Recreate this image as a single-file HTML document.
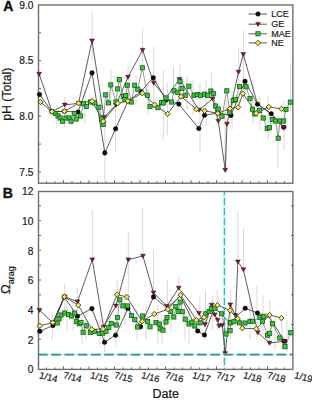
<!DOCTYPE html>
<html><head><meta charset="utf-8"><style>
html,body{margin:0;padding:0;background:#fff;width:312px;height:400px;overflow:hidden}
svg{display:block}
text{stroke:#222;stroke-width:0.2px}
</style></head><body>
<svg width="312" height="400" viewBox="0 0 312 400">
<rect width="312" height="400" fill="#fff"/>
<rect x="38.5" y="5.0" width="254.35" height="178.20" fill="none" stroke="#6e6e6e" stroke-width="1.4"/>
<line x1="46.5" y1="183.2" x2="46.5" y2="181.2" stroke="#6a6a6a" stroke-width="1"/>
<line x1="55.0" y1="183.2" x2="55.0" y2="181.2" stroke="#6a6a6a" stroke-width="1"/>
<line x1="63.5" y1="183.2" x2="63.5" y2="180.2" stroke="#6a6a6a" stroke-width="1"/>
<line x1="72.0" y1="183.2" x2="72.0" y2="181.2" stroke="#6a6a6a" stroke-width="1"/>
<line x1="80.5" y1="183.2" x2="80.5" y2="181.2" stroke="#6a6a6a" stroke-width="1"/>
<line x1="89.0" y1="183.2" x2="89.0" y2="180.2" stroke="#6a6a6a" stroke-width="1"/>
<line x1="97.5" y1="183.2" x2="97.5" y2="181.2" stroke="#6a6a6a" stroke-width="1"/>
<line x1="106.0" y1="183.2" x2="106.0" y2="181.2" stroke="#6a6a6a" stroke-width="1"/>
<line x1="114.5" y1="183.2" x2="114.5" y2="180.2" stroke="#6a6a6a" stroke-width="1"/>
<line x1="123.0" y1="183.2" x2="123.0" y2="181.2" stroke="#6a6a6a" stroke-width="1"/>
<line x1="131.5" y1="183.2" x2="131.5" y2="181.2" stroke="#6a6a6a" stroke-width="1"/>
<line x1="140.0" y1="183.2" x2="140.0" y2="180.2" stroke="#6a6a6a" stroke-width="1"/>
<line x1="148.5" y1="183.2" x2="148.5" y2="181.2" stroke="#6a6a6a" stroke-width="1"/>
<line x1="157.0" y1="183.2" x2="157.0" y2="181.2" stroke="#6a6a6a" stroke-width="1"/>
<line x1="165.5" y1="183.2" x2="165.5" y2="180.2" stroke="#6a6a6a" stroke-width="1"/>
<line x1="174.0" y1="183.2" x2="174.0" y2="181.2" stroke="#6a6a6a" stroke-width="1"/>
<line x1="182.5" y1="183.2" x2="182.5" y2="181.2" stroke="#6a6a6a" stroke-width="1"/>
<line x1="191.0" y1="183.2" x2="191.0" y2="180.2" stroke="#6a6a6a" stroke-width="1"/>
<line x1="199.5" y1="183.2" x2="199.5" y2="181.2" stroke="#6a6a6a" stroke-width="1"/>
<line x1="208.0" y1="183.2" x2="208.0" y2="181.2" stroke="#6a6a6a" stroke-width="1"/>
<line x1="216.5" y1="183.2" x2="216.5" y2="180.2" stroke="#6a6a6a" stroke-width="1"/>
<line x1="225.0" y1="183.2" x2="225.0" y2="181.2" stroke="#6a6a6a" stroke-width="1"/>
<line x1="233.5" y1="183.2" x2="233.5" y2="181.2" stroke="#6a6a6a" stroke-width="1"/>
<line x1="242.0" y1="183.2" x2="242.0" y2="180.2" stroke="#6a6a6a" stroke-width="1"/>
<line x1="250.5" y1="183.2" x2="250.5" y2="181.2" stroke="#6a6a6a" stroke-width="1"/>
<line x1="259.0" y1="183.2" x2="259.0" y2="181.2" stroke="#6a6a6a" stroke-width="1"/>
<line x1="267.5" y1="183.2" x2="267.5" y2="180.2" stroke="#6a6a6a" stroke-width="1"/>
<line x1="276.0" y1="183.2" x2="276.0" y2="181.2" stroke="#6a6a6a" stroke-width="1"/>
<line x1="284.5" y1="183.2" x2="284.5" y2="181.2" stroke="#6a6a6a" stroke-width="1"/>
<line x1="38.5" y1="171.9" x2="41" y2="171.9" stroke="#6a6a6a" stroke-width="1"/>
<line x1="38.5" y1="144.1" x2="41" y2="144.1" stroke="#6a6a6a" stroke-width="1"/>
<line x1="38.5" y1="116.3" x2="41" y2="116.3" stroke="#6a6a6a" stroke-width="1"/>
<line x1="38.5" y1="88.4" x2="41" y2="88.4" stroke="#6a6a6a" stroke-width="1"/>
<line x1="38.5" y1="60.6" x2="41" y2="60.6" stroke="#6a6a6a" stroke-width="1"/>
<line x1="38.5" y1="32.8" x2="41" y2="32.8" stroke="#6a6a6a" stroke-width="1"/>
<text x="33.4" y="8.6" text-anchor="end" font-size="10.2" fill="#222" font-family="Liberation Sans, sans-serif">9.0</text>
<text x="33.4" y="64.2" text-anchor="end" font-size="10.2" fill="#222" font-family="Liberation Sans, sans-serif">8.5</text>
<text x="33.4" y="119.9" text-anchor="end" font-size="10.2" fill="#222" font-family="Liberation Sans, sans-serif">8.0</text>
<text x="33.4" y="175.5" text-anchor="end" font-size="10.2" fill="#222" font-family="Liberation Sans, sans-serif">7.5</text>
<rect x="38.5" y="191.5" width="254.35" height="177.90" fill="none" stroke="#6e6e6e" stroke-width="1.4"/>
<line x1="46.5" y1="369.4" x2="46.5" y2="367.4" stroke="#6a6a6a" stroke-width="1"/>
<line x1="55.0" y1="369.4" x2="55.0" y2="367.4" stroke="#6a6a6a" stroke-width="1"/>
<line x1="63.5" y1="369.4" x2="63.5" y2="366.4" stroke="#6a6a6a" stroke-width="1"/>
<line x1="72.0" y1="369.4" x2="72.0" y2="367.4" stroke="#6a6a6a" stroke-width="1"/>
<line x1="80.5" y1="369.4" x2="80.5" y2="367.4" stroke="#6a6a6a" stroke-width="1"/>
<line x1="89.0" y1="369.4" x2="89.0" y2="366.4" stroke="#6a6a6a" stroke-width="1"/>
<line x1="97.5" y1="369.4" x2="97.5" y2="367.4" stroke="#6a6a6a" stroke-width="1"/>
<line x1="106.0" y1="369.4" x2="106.0" y2="367.4" stroke="#6a6a6a" stroke-width="1"/>
<line x1="114.5" y1="369.4" x2="114.5" y2="366.4" stroke="#6a6a6a" stroke-width="1"/>
<line x1="123.0" y1="369.4" x2="123.0" y2="367.4" stroke="#6a6a6a" stroke-width="1"/>
<line x1="131.5" y1="369.4" x2="131.5" y2="367.4" stroke="#6a6a6a" stroke-width="1"/>
<line x1="140.0" y1="369.4" x2="140.0" y2="366.4" stroke="#6a6a6a" stroke-width="1"/>
<line x1="148.5" y1="369.4" x2="148.5" y2="367.4" stroke="#6a6a6a" stroke-width="1"/>
<line x1="157.0" y1="369.4" x2="157.0" y2="367.4" stroke="#6a6a6a" stroke-width="1"/>
<line x1="165.5" y1="369.4" x2="165.5" y2="366.4" stroke="#6a6a6a" stroke-width="1"/>
<line x1="174.0" y1="369.4" x2="174.0" y2="367.4" stroke="#6a6a6a" stroke-width="1"/>
<line x1="182.5" y1="369.4" x2="182.5" y2="367.4" stroke="#6a6a6a" stroke-width="1"/>
<line x1="191.0" y1="369.4" x2="191.0" y2="366.4" stroke="#6a6a6a" stroke-width="1"/>
<line x1="199.5" y1="369.4" x2="199.5" y2="367.4" stroke="#6a6a6a" stroke-width="1"/>
<line x1="208.0" y1="369.4" x2="208.0" y2="367.4" stroke="#6a6a6a" stroke-width="1"/>
<line x1="216.5" y1="369.4" x2="216.5" y2="366.4" stroke="#6a6a6a" stroke-width="1"/>
<line x1="225.0" y1="369.4" x2="225.0" y2="367.4" stroke="#6a6a6a" stroke-width="1"/>
<line x1="233.5" y1="369.4" x2="233.5" y2="367.4" stroke="#6a6a6a" stroke-width="1"/>
<line x1="242.0" y1="369.4" x2="242.0" y2="366.4" stroke="#6a6a6a" stroke-width="1"/>
<line x1="250.5" y1="369.4" x2="250.5" y2="367.4" stroke="#6a6a6a" stroke-width="1"/>
<line x1="259.0" y1="369.4" x2="259.0" y2="367.4" stroke="#6a6a6a" stroke-width="1"/>
<line x1="267.5" y1="369.4" x2="267.5" y2="366.4" stroke="#6a6a6a" stroke-width="1"/>
<line x1="276.0" y1="369.4" x2="276.0" y2="367.4" stroke="#6a6a6a" stroke-width="1"/>
<line x1="284.5" y1="369.4" x2="284.5" y2="367.4" stroke="#6a6a6a" stroke-width="1"/>
<line x1="38.5" y1="354.2" x2="41" y2="354.2" stroke="#6a6a6a" stroke-width="1"/>
<line x1="38.5" y1="339.3" x2="41" y2="339.3" stroke="#6a6a6a" stroke-width="1"/>
<line x1="38.5" y1="324.5" x2="41" y2="324.5" stroke="#6a6a6a" stroke-width="1"/>
<line x1="38.5" y1="309.7" x2="41" y2="309.7" stroke="#6a6a6a" stroke-width="1"/>
<line x1="38.5" y1="294.8" x2="41" y2="294.8" stroke="#6a6a6a" stroke-width="1"/>
<line x1="38.5" y1="280.0" x2="41" y2="280.0" stroke="#6a6a6a" stroke-width="1"/>
<line x1="38.5" y1="265.2" x2="41" y2="265.2" stroke="#6a6a6a" stroke-width="1"/>
<line x1="38.5" y1="250.3" x2="41" y2="250.3" stroke="#6a6a6a" stroke-width="1"/>
<line x1="38.5" y1="235.5" x2="41" y2="235.5" stroke="#6a6a6a" stroke-width="1"/>
<line x1="38.5" y1="220.7" x2="41" y2="220.7" stroke="#6a6a6a" stroke-width="1"/>
<line x1="38.5" y1="205.8" x2="41" y2="205.8" stroke="#6a6a6a" stroke-width="1"/>
<line x1="293.5" y1="354.2" x2="291" y2="354.2" stroke="#6a6a6a" stroke-width="1"/>
<line x1="293.5" y1="324.5" x2="291" y2="324.5" stroke="#6a6a6a" stroke-width="1"/>
<line x1="293.5" y1="294.8" x2="291" y2="294.8" stroke="#6a6a6a" stroke-width="1"/>
<line x1="293.5" y1="265.2" x2="291" y2="265.2" stroke="#6a6a6a" stroke-width="1"/>
<line x1="293.5" y1="235.5" x2="291" y2="235.5" stroke="#6a6a6a" stroke-width="1"/>
<line x1="293.5" y1="205.8" x2="291" y2="205.8" stroke="#6a6a6a" stroke-width="1"/>
<text x="33.4" y="373.2" text-anchor="end" font-size="10.2" fill="#222" font-family="Liberation Sans, sans-serif">0</text>
<text x="33.4" y="343.5" text-anchor="end" font-size="10.2" fill="#222" font-family="Liberation Sans, sans-serif">2</text>
<text x="33.4" y="313.9" text-anchor="end" font-size="10.2" fill="#222" font-family="Liberation Sans, sans-serif">4</text>
<text x="33.4" y="284.2" text-anchor="end" font-size="10.2" fill="#222" font-family="Liberation Sans, sans-serif">6</text>
<text x="33.4" y="254.5" text-anchor="end" font-size="10.2" fill="#222" font-family="Liberation Sans, sans-serif">8</text>
<text x="33.4" y="224.9" text-anchor="end" font-size="10.2" fill="#222" font-family="Liberation Sans, sans-serif">10</text>
<text x="33.4" y="195.2" text-anchor="end" font-size="10.2" fill="#222" font-family="Liberation Sans, sans-serif">12</text>
<text transform="translate(38.8,378) rotate(14)" font-size="9.5" fill="#222" font-family="Liberation Sans, sans-serif">1/14</text>
<text transform="translate(62.8,378) rotate(14)" font-size="9.5" fill="#222" font-family="Liberation Sans, sans-serif">7/14</text>
<text transform="translate(89.8,378) rotate(14)" font-size="9.5" fill="#222" font-family="Liberation Sans, sans-serif">1/15</text>
<text transform="translate(113.8,378) rotate(14)" font-size="9.5" fill="#222" font-family="Liberation Sans, sans-serif">7/15</text>
<text transform="translate(140.8,378) rotate(14)" font-size="9.5" fill="#222" font-family="Liberation Sans, sans-serif">1/16</text>
<text transform="translate(164.8,378) rotate(14)" font-size="9.5" fill="#222" font-family="Liberation Sans, sans-serif">7/16</text>
<text transform="translate(191.8,378) rotate(14)" font-size="9.5" fill="#222" font-family="Liberation Sans, sans-serif">1/17</text>
<text transform="translate(215.8,378) rotate(14)" font-size="9.5" fill="#222" font-family="Liberation Sans, sans-serif">7/17</text>
<text transform="translate(242.8,378) rotate(14)" font-size="9.5" fill="#222" font-family="Liberation Sans, sans-serif">1/18</text>
<text transform="translate(266.8,378) rotate(14)" font-size="9.5" fill="#222" font-family="Liberation Sans, sans-serif">7/18</text>
<text transform="translate(293.8,378) rotate(14)" font-size="9.5" fill="#222" font-family="Liberation Sans, sans-serif">1/19</text>
<text x="3.2" y="11.3" font-size="14" font-weight="bold" fill="#111" style="stroke-width:0.45px" font-family="Liberation Sans, sans-serif">A</text>
<text x="2.8" y="197.8" font-size="14" font-weight="bold" fill="#111" style="stroke-width:0.45px" font-family="Liberation Sans, sans-serif">B</text>
<text transform="translate(10.8,94.2) rotate(-90)" text-anchor="middle" font-size="12.3" fill="#111" font-family="Liberation Sans, sans-serif">pH (Total)</text>
<text transform="translate(9.9,294) rotate(-90)" font-size="13" fill="#111" font-family="Liberation Sans, sans-serif">&#937;<tspan font-size="9" dy="4.3">arag</tspan></text>
<text x="165.8" y="398.2" text-anchor="middle" font-size="12.5" fill="#111" font-family="Liberation Sans, sans-serif">Date</text>
<line x1="248.5" y1="14.0" x2="267" y2="14.0" stroke="#333" stroke-width="0.8"/>
<circle cx="258.0" cy="14.0" r="2.3" fill="#0a0a0a" stroke="#000" stroke-width="0.4"/>
<text x="271.3" y="17.1" font-size="9" fill="#222" font-family="Liberation Sans, sans-serif">LCE</text>
<line x1="248.5" y1="24.2" x2="267" y2="24.2" stroke="#333" stroke-width="0.8"/>
<path d="M255.6,22.4L260.4,22.4L258.0,26.4Z" fill="#7c1a28" stroke="#3a0a10" stroke-width="0.5"/>
<text x="271.3" y="27.3" font-size="9" fill="#222" font-family="Liberation Sans, sans-serif">GE</text>
<line x1="248.5" y1="33.8" x2="267" y2="33.8" stroke="#333" stroke-width="0.8"/>
<rect x="255.9" y="31.7" width="4.2" height="4.2" fill="#36c836" stroke="#175317" stroke-width="0.75"/>
<text x="271.3" y="36.9" font-size="9" fill="#222" font-family="Liberation Sans, sans-serif">MAE</text>
<line x1="248.5" y1="42.9" x2="267" y2="42.9" stroke="#333" stroke-width="0.8"/>
<path d="M258.0,40.2L260.7,42.9L258.0,45.6L255.3,42.9Z" fill="#f2ea50" stroke="#2a2a10" stroke-width="0.8"/>
<text x="271.3" y="46.0" font-size="9" fill="#222" font-family="Liberation Sans, sans-serif">NE</text>
<g>
<line x1="92.2" y1="11.4" x2="92.2" y2="60.0" stroke="#d9d9d9" stroke-width="1"/>
<line x1="142.5" y1="29.0" x2="142.5" y2="70.0" stroke="#d9d9d9" stroke-width="1"/>
<line x1="153.7" y1="46.7" x2="153.7" y2="110.0" stroke="#d9d9d9" stroke-width="1"/>
<line x1="243.5" y1="30.8" x2="243.5" y2="100.0" stroke="#d9d9d9" stroke-width="1"/>
<line x1="238.7" y1="47.6" x2="238.7" y2="90.0" stroke="#d9d9d9" stroke-width="1"/>
<line x1="180.0" y1="63.0" x2="180.0" y2="85.0" stroke="#d9d9d9" stroke-width="1"/>
<line x1="211.7" y1="71.0" x2="211.7" y2="100.0" stroke="#d9d9d9" stroke-width="1"/>
<line x1="173.5" y1="66.0" x2="173.5" y2="95.0" stroke="#d9d9d9" stroke-width="1"/>
<line x1="104.8" y1="120.0" x2="104.8" y2="182.0" stroke="#d9d9d9" stroke-width="1"/>
<line x1="111.0" y1="70.0" x2="111.0" y2="110.0" stroke="#d9d9d9" stroke-width="1"/>
<line x1="115.6" y1="100.0" x2="115.6" y2="151.0" stroke="#d9d9d9" stroke-width="1"/>
<line x1="226.0" y1="100.0" x2="226.0" y2="172.0" stroke="#d9d9d9" stroke-width="1"/>
<line x1="268.0" y1="95.0" x2="268.0" y2="140.0" stroke="#d9d9d9" stroke-width="1"/>
<line x1="278.0" y1="125.0" x2="278.0" y2="168.0" stroke="#d9d9d9" stroke-width="1"/>
<line x1="290.5" y1="63.0" x2="290.5" y2="113.0" stroke="#d9d9d9" stroke-width="1"/>
<line x1="253.0" y1="80.0" x2="253.0" y2="125.0" stroke="#d9d9d9" stroke-width="1"/>
<line x1="128.0" y1="66.0" x2="128.0" y2="100.0" stroke="#d9d9d9" stroke-width="1"/>
<line x1="64.7" y1="97.0" x2="64.7" y2="127.0" stroke="#d9d9d9" stroke-width="1"/>
<line x1="57.0" y1="105.0" x2="57.0" y2="128.0" stroke="#d9d9d9" stroke-width="1"/>
<line x1="163.3" y1="70.0" x2="163.3" y2="140.0" stroke="#d9d9d9" stroke-width="1"/>
<line x1="167.3" y1="83.0" x2="167.3" y2="135.0" stroke="#d9d9d9" stroke-width="1"/>
<line x1="200.0" y1="83.0" x2="200.0" y2="153.0" stroke="#d9d9d9" stroke-width="1"/>
<line x1="225.0" y1="113.0" x2="225.0" y2="165.0" stroke="#d9d9d9" stroke-width="1"/>
<line x1="85.0" y1="90.0" x2="85.0" y2="125.0" stroke="#d9d9d9" stroke-width="1"/>
<line x1="100.0" y1="95.0" x2="100.0" y2="125.0" stroke="#d9d9d9" stroke-width="1"/>
<line x1="136.0" y1="75.0" x2="136.0" y2="105.0" stroke="#d9d9d9" stroke-width="1"/>
<line x1="148.0" y1="85.0" x2="148.0" y2="115.0" stroke="#d9d9d9" stroke-width="1"/>
<line x1="187.0" y1="75.0" x2="187.0" y2="110.0" stroke="#d9d9d9" stroke-width="1"/>
<line x1="193.0" y1="80.0" x2="193.0" y2="115.0" stroke="#d9d9d9" stroke-width="1"/>
<line x1="206.0" y1="80.0" x2="206.0" y2="125.0" stroke="#d9d9d9" stroke-width="1"/>
<line x1="232.0" y1="90.0" x2="232.0" y2="130.0" stroke="#d9d9d9" stroke-width="1"/>
<line x1="260.0" y1="95.0" x2="260.0" y2="130.0" stroke="#d9d9d9" stroke-width="1"/>
<line x1="284.0" y1="100.0" x2="284.0" y2="150.0" stroke="#d9d9d9" stroke-width="1"/>
<path d="M39.5,94.5L52.0,111.6L64.5,111.3L78.0,112.1L92.0,72.9L104.8,152.9L115.6,128.8L128.0,101.0L141.0,91.5L153.3,77.7L166.0,100.0L178.8,104.1L198.8,128.5L204.5,115.3L217.7,113.0L231.0,115.4L245.0,81.3L257.5,104.2L271.2,113.7L283.7,127.3" fill="none" stroke="#333" stroke-width="0.8"/>
<path d="M39.2,74.1L52.0,111.6L64.8,104.9L78.5,103.3L92.0,40.8L104.0,117.3L116.0,105.0L128.0,77.0L142.6,50.1L153.7,83.0L166.0,98.0L179.5,79.2L199.0,110.0L212.5,98.8L218.3,121.0L225.2,170.1L227.0,124.1L238.5,72.0L243.3,54.4L257.5,104.2L271.2,113.7L283.7,127.3" fill="none" stroke="#333" stroke-width="0.8"/>
<path d="M40.5,102.0L52.0,111.6L64.5,111.3L78.5,103.3L92.0,101.3L103.2,121.3L117.7,103.3L127.8,101.0L142.3,93.2L154.7,104.7L167.5,113.9L181.0,96.5L196.4,109.2L204.5,110.8L217.7,113.3L230.0,108.6L238.0,107.3L242.9,93.6L256.2,113.2L268.7,107.0L281.5,108.8" fill="none" stroke="#333" stroke-width="0.8"/>
<path d="M55.7,113.5L58.0,116.0L60.2,118.0L62.7,121.2L66.0,118.0L69.2,118.0L71.0,121.2L74.3,113.5L76.2,119.0L80.7,116.0L83.6,103.7L86.4,106.5L90.4,102.0L94.7,102.9L98.9,107.2L101.6,118.9L103.2,124.5L105.6,94.8L108.5,102.9L110.8,84.9L116.0,102.0L117.7,88.9L119.3,79.6L123.3,96.4L124.9,99.6L125.8,95.6L127.3,85.2L131.4,102.0L134.6,85.2L137.8,89.2L142.3,67.8L147.4,95.3L150.0,106.5L158.0,107.7L161.5,102.7L163.5,102.9L166.0,98.0L171.6,102.0L174.0,90.8L177.8,92.4L180.0,81.4L182.0,88.5L185.2,95.3L188.9,86.2L194.0,95.3L197.2,94.5L200.4,95.3L204.5,94.2L207.7,95.3L210.9,91.0L213.3,93.7L215.5,106.0L218.2,109.0L222.0,116.2L226.8,90.8L229.6,112.3L233.2,100.6L235.6,99.6L239.6,86.5L246.0,86.8L250.0,98.5L252.5,109.2L254.9,114.0L259.7,110.4L263.3,118.0L267.2,128.5L269.5,127.7L272.2,119.5L275.5,121.0L278.2,138.2L280.0,121.0L283.7,121.0L286.0,109.5L290.3,102.1" fill="none" stroke="#555" stroke-width="0.6"/>
<circle cx="39.5" cy="94.5" r="2.3" fill="#0a0a0a" stroke="#000" stroke-width="0.4"/>
<circle cx="52.0" cy="111.6" r="2.3" fill="#0a0a0a" stroke="#000" stroke-width="0.4"/>
<circle cx="64.5" cy="111.3" r="2.3" fill="#0a0a0a" stroke="#000" stroke-width="0.4"/>
<circle cx="78.0" cy="112.1" r="2.3" fill="#0a0a0a" stroke="#000" stroke-width="0.4"/>
<circle cx="92.0" cy="72.9" r="2.3" fill="#0a0a0a" stroke="#000" stroke-width="0.4"/>
<circle cx="104.8" cy="152.9" r="2.3" fill="#0a0a0a" stroke="#000" stroke-width="0.4"/>
<circle cx="115.6" cy="128.8" r="2.3" fill="#0a0a0a" stroke="#000" stroke-width="0.4"/>
<circle cx="128.0" cy="101.0" r="2.3" fill="#0a0a0a" stroke="#000" stroke-width="0.4"/>
<circle cx="141.0" cy="91.5" r="2.3" fill="#0a0a0a" stroke="#000" stroke-width="0.4"/>
<circle cx="153.3" cy="77.7" r="2.3" fill="#0a0a0a" stroke="#000" stroke-width="0.4"/>
<circle cx="166.0" cy="100.0" r="2.3" fill="#0a0a0a" stroke="#000" stroke-width="0.4"/>
<circle cx="178.8" cy="104.1" r="2.3" fill="#0a0a0a" stroke="#000" stroke-width="0.4"/>
<circle cx="198.8" cy="128.5" r="2.3" fill="#0a0a0a" stroke="#000" stroke-width="0.4"/>
<circle cx="204.5" cy="115.3" r="2.3" fill="#0a0a0a" stroke="#000" stroke-width="0.4"/>
<circle cx="217.7" cy="113.0" r="2.3" fill="#0a0a0a" stroke="#000" stroke-width="0.4"/>
<circle cx="231.0" cy="115.4" r="2.3" fill="#0a0a0a" stroke="#000" stroke-width="0.4"/>
<circle cx="245.0" cy="81.3" r="2.3" fill="#0a0a0a" stroke="#000" stroke-width="0.4"/>
<circle cx="257.5" cy="104.2" r="2.3" fill="#0a0a0a" stroke="#000" stroke-width="0.4"/>
<circle cx="271.2" cy="113.7" r="2.3" fill="#0a0a0a" stroke="#000" stroke-width="0.4"/>
<circle cx="283.7" cy="127.3" r="2.3" fill="#0a0a0a" stroke="#000" stroke-width="0.4"/>
<path d="M36.8,72.3L41.6,72.3L39.2,76.3Z" fill="#7c1a28" stroke="#3a0a10" stroke-width="0.5"/>
<path d="M49.6,109.8L54.4,109.8L52.0,113.8Z" fill="#7c1a28" stroke="#3a0a10" stroke-width="0.5"/>
<path d="M62.4,103.1L67.2,103.1L64.8,107.1Z" fill="#7c1a28" stroke="#3a0a10" stroke-width="0.5"/>
<path d="M76.1,101.5L80.9,101.5L78.5,105.5Z" fill="#7c1a28" stroke="#3a0a10" stroke-width="0.5"/>
<path d="M89.6,39.0L94.4,39.0L92.0,43.0Z" fill="#7c1a28" stroke="#3a0a10" stroke-width="0.5"/>
<path d="M101.6,115.5L106.4,115.5L104.0,119.5Z" fill="#7c1a28" stroke="#3a0a10" stroke-width="0.5"/>
<path d="M113.6,103.2L118.4,103.2L116.0,107.2Z" fill="#7c1a28" stroke="#3a0a10" stroke-width="0.5"/>
<path d="M125.6,75.2L130.4,75.2L128.0,79.2Z" fill="#7c1a28" stroke="#3a0a10" stroke-width="0.5"/>
<path d="M140.2,48.3L145.0,48.3L142.6,52.3Z" fill="#7c1a28" stroke="#3a0a10" stroke-width="0.5"/>
<path d="M151.3,81.2L156.1,81.2L153.7,85.2Z" fill="#7c1a28" stroke="#3a0a10" stroke-width="0.5"/>
<path d="M163.6,96.2L168.4,96.2L166.0,100.2Z" fill="#7c1a28" stroke="#3a0a10" stroke-width="0.5"/>
<path d="M177.1,77.4L181.9,77.4L179.5,81.4Z" fill="#7c1a28" stroke="#3a0a10" stroke-width="0.5"/>
<path d="M196.6,108.2L201.4,108.2L199.0,112.2Z" fill="#7c1a28" stroke="#3a0a10" stroke-width="0.5"/>
<path d="M210.1,97.0L214.9,97.0L212.5,101.0Z" fill="#7c1a28" stroke="#3a0a10" stroke-width="0.5"/>
<path d="M215.9,119.2L220.7,119.2L218.3,123.2Z" fill="#7c1a28" stroke="#3a0a10" stroke-width="0.5"/>
<path d="M222.8,168.3L227.6,168.3L225.2,172.3Z" fill="#7c1a28" stroke="#3a0a10" stroke-width="0.5"/>
<path d="M224.6,122.3L229.4,122.3L227.0,126.3Z" fill="#7c1a28" stroke="#3a0a10" stroke-width="0.5"/>
<path d="M236.1,70.2L240.9,70.2L238.5,74.2Z" fill="#7c1a28" stroke="#3a0a10" stroke-width="0.5"/>
<path d="M240.9,52.6L245.7,52.6L243.3,56.6Z" fill="#7c1a28" stroke="#3a0a10" stroke-width="0.5"/>
<path d="M281.3,125.5L286.1,125.5L283.7,129.5Z" fill="#7c1a28" stroke="#3a0a10" stroke-width="0.5"/>
<rect x="53.6" y="111.4" width="4.2" height="4.2" fill="#36c836" stroke="#175317" stroke-width="0.75"/>
<rect x="55.9" y="113.9" width="4.2" height="4.2" fill="#36c836" stroke="#175317" stroke-width="0.75"/>
<rect x="58.1" y="115.9" width="4.2" height="4.2" fill="#36c836" stroke="#175317" stroke-width="0.75"/>
<rect x="60.6" y="119.1" width="4.2" height="4.2" fill="#36c836" stroke="#175317" stroke-width="0.75"/>
<rect x="63.9" y="115.9" width="4.2" height="4.2" fill="#36c836" stroke="#175317" stroke-width="0.75"/>
<rect x="67.1" y="115.9" width="4.2" height="4.2" fill="#36c836" stroke="#175317" stroke-width="0.75"/>
<rect x="68.9" y="119.1" width="4.2" height="4.2" fill="#36c836" stroke="#175317" stroke-width="0.75"/>
<rect x="72.2" y="111.4" width="4.2" height="4.2" fill="#36c836" stroke="#175317" stroke-width="0.75"/>
<rect x="74.1" y="116.9" width="4.2" height="4.2" fill="#36c836" stroke="#175317" stroke-width="0.75"/>
<rect x="78.6" y="113.9" width="4.2" height="4.2" fill="#36c836" stroke="#175317" stroke-width="0.75"/>
<rect x="81.5" y="101.6" width="4.2" height="4.2" fill="#36c836" stroke="#175317" stroke-width="0.75"/>
<rect x="84.3" y="104.4" width="4.2" height="4.2" fill="#36c836" stroke="#175317" stroke-width="0.75"/>
<rect x="88.3" y="99.9" width="4.2" height="4.2" fill="#36c836" stroke="#175317" stroke-width="0.75"/>
<rect x="92.6" y="100.8" width="4.2" height="4.2" fill="#36c836" stroke="#175317" stroke-width="0.75"/>
<rect x="96.8" y="105.1" width="4.2" height="4.2" fill="#36c836" stroke="#175317" stroke-width="0.75"/>
<rect x="99.5" y="116.8" width="4.2" height="4.2" fill="#36c836" stroke="#175317" stroke-width="0.75"/>
<rect x="101.1" y="122.4" width="4.2" height="4.2" fill="#36c836" stroke="#175317" stroke-width="0.75"/>
<rect x="103.5" y="92.7" width="4.2" height="4.2" fill="#36c836" stroke="#175317" stroke-width="0.75"/>
<rect x="106.4" y="100.8" width="4.2" height="4.2" fill="#36c836" stroke="#175317" stroke-width="0.75"/>
<rect x="108.7" y="82.8" width="4.2" height="4.2" fill="#36c836" stroke="#175317" stroke-width="0.75"/>
<rect x="113.9" y="99.9" width="4.2" height="4.2" fill="#36c836" stroke="#175317" stroke-width="0.75"/>
<rect x="115.6" y="86.8" width="4.2" height="4.2" fill="#36c836" stroke="#175317" stroke-width="0.75"/>
<rect x="117.2" y="77.5" width="4.2" height="4.2" fill="#36c836" stroke="#175317" stroke-width="0.75"/>
<rect x="121.2" y="94.3" width="4.2" height="4.2" fill="#36c836" stroke="#175317" stroke-width="0.75"/>
<rect x="122.8" y="97.5" width="4.2" height="4.2" fill="#36c836" stroke="#175317" stroke-width="0.75"/>
<rect x="123.7" y="93.5" width="4.2" height="4.2" fill="#36c836" stroke="#175317" stroke-width="0.75"/>
<rect x="125.2" y="83.1" width="4.2" height="4.2" fill="#36c836" stroke="#175317" stroke-width="0.75"/>
<rect x="129.3" y="99.9" width="4.2" height="4.2" fill="#36c836" stroke="#175317" stroke-width="0.75"/>
<rect x="132.5" y="83.1" width="4.2" height="4.2" fill="#36c836" stroke="#175317" stroke-width="0.75"/>
<rect x="135.7" y="87.1" width="4.2" height="4.2" fill="#36c836" stroke="#175317" stroke-width="0.75"/>
<rect x="140.2" y="65.7" width="4.2" height="4.2" fill="#36c836" stroke="#175317" stroke-width="0.75"/>
<rect x="145.3" y="93.2" width="4.2" height="4.2" fill="#36c836" stroke="#175317" stroke-width="0.75"/>
<rect x="147.9" y="104.4" width="4.2" height="4.2" fill="#36c836" stroke="#175317" stroke-width="0.75"/>
<rect x="155.9" y="105.6" width="4.2" height="4.2" fill="#36c836" stroke="#175317" stroke-width="0.75"/>
<rect x="159.4" y="100.6" width="4.2" height="4.2" fill="#36c836" stroke="#175317" stroke-width="0.75"/>
<rect x="161.4" y="100.8" width="4.2" height="4.2" fill="#36c836" stroke="#175317" stroke-width="0.75"/>
<rect x="163.9" y="95.9" width="4.2" height="4.2" fill="#36c836" stroke="#175317" stroke-width="0.75"/>
<rect x="169.5" y="99.9" width="4.2" height="4.2" fill="#36c836" stroke="#175317" stroke-width="0.75"/>
<rect x="171.9" y="88.7" width="4.2" height="4.2" fill="#36c836" stroke="#175317" stroke-width="0.75"/>
<rect x="175.7" y="90.3" width="4.2" height="4.2" fill="#36c836" stroke="#175317" stroke-width="0.75"/>
<rect x="177.9" y="79.3" width="4.2" height="4.2" fill="#36c836" stroke="#175317" stroke-width="0.75"/>
<rect x="179.9" y="86.4" width="4.2" height="4.2" fill="#36c836" stroke="#175317" stroke-width="0.75"/>
<rect x="183.1" y="93.2" width="4.2" height="4.2" fill="#36c836" stroke="#175317" stroke-width="0.75"/>
<rect x="186.8" y="84.1" width="4.2" height="4.2" fill="#36c836" stroke="#175317" stroke-width="0.75"/>
<rect x="191.9" y="93.2" width="4.2" height="4.2" fill="#36c836" stroke="#175317" stroke-width="0.75"/>
<rect x="195.1" y="92.4" width="4.2" height="4.2" fill="#36c836" stroke="#175317" stroke-width="0.75"/>
<rect x="198.3" y="93.2" width="4.2" height="4.2" fill="#36c836" stroke="#175317" stroke-width="0.75"/>
<rect x="202.4" y="92.1" width="4.2" height="4.2" fill="#36c836" stroke="#175317" stroke-width="0.75"/>
<rect x="205.6" y="93.2" width="4.2" height="4.2" fill="#36c836" stroke="#175317" stroke-width="0.75"/>
<rect x="208.8" y="88.9" width="4.2" height="4.2" fill="#36c836" stroke="#175317" stroke-width="0.75"/>
<rect x="211.2" y="91.6" width="4.2" height="4.2" fill="#36c836" stroke="#175317" stroke-width="0.75"/>
<rect x="213.4" y="103.9" width="4.2" height="4.2" fill="#36c836" stroke="#175317" stroke-width="0.75"/>
<rect x="216.1" y="106.9" width="4.2" height="4.2" fill="#36c836" stroke="#175317" stroke-width="0.75"/>
<rect x="219.9" y="114.1" width="4.2" height="4.2" fill="#36c836" stroke="#175317" stroke-width="0.75"/>
<rect x="224.7" y="88.7" width="4.2" height="4.2" fill="#36c836" stroke="#175317" stroke-width="0.75"/>
<rect x="227.5" y="110.2" width="4.2" height="4.2" fill="#36c836" stroke="#175317" stroke-width="0.75"/>
<rect x="231.1" y="98.5" width="4.2" height="4.2" fill="#36c836" stroke="#175317" stroke-width="0.75"/>
<rect x="233.5" y="97.5" width="4.2" height="4.2" fill="#36c836" stroke="#175317" stroke-width="0.75"/>
<rect x="237.5" y="84.4" width="4.2" height="4.2" fill="#36c836" stroke="#175317" stroke-width="0.75"/>
<rect x="243.9" y="84.7" width="4.2" height="4.2" fill="#36c836" stroke="#175317" stroke-width="0.75"/>
<rect x="247.9" y="96.4" width="4.2" height="4.2" fill="#36c836" stroke="#175317" stroke-width="0.75"/>
<rect x="250.4" y="107.1" width="4.2" height="4.2" fill="#36c836" stroke="#175317" stroke-width="0.75"/>
<rect x="252.8" y="111.9" width="4.2" height="4.2" fill="#36c836" stroke="#175317" stroke-width="0.75"/>
<rect x="257.6" y="108.3" width="4.2" height="4.2" fill="#36c836" stroke="#175317" stroke-width="0.75"/>
<rect x="261.2" y="115.9" width="4.2" height="4.2" fill="#36c836" stroke="#175317" stroke-width="0.75"/>
<rect x="265.1" y="126.4" width="4.2" height="4.2" fill="#36c836" stroke="#175317" stroke-width="0.75"/>
<rect x="267.4" y="125.6" width="4.2" height="4.2" fill="#36c836" stroke="#175317" stroke-width="0.75"/>
<rect x="270.1" y="117.4" width="4.2" height="4.2" fill="#36c836" stroke="#175317" stroke-width="0.75"/>
<rect x="273.4" y="118.9" width="4.2" height="4.2" fill="#36c836" stroke="#175317" stroke-width="0.75"/>
<rect x="276.1" y="136.1" width="4.2" height="4.2" fill="#36c836" stroke="#175317" stroke-width="0.75"/>
<rect x="277.9" y="118.9" width="4.2" height="4.2" fill="#36c836" stroke="#175317" stroke-width="0.75"/>
<rect x="281.6" y="118.9" width="4.2" height="4.2" fill="#36c836" stroke="#175317" stroke-width="0.75"/>
<rect x="283.9" y="107.4" width="4.2" height="4.2" fill="#36c836" stroke="#175317" stroke-width="0.75"/>
<rect x="288.2" y="100.0" width="4.2" height="4.2" fill="#36c836" stroke="#175317" stroke-width="0.75"/>
<path d="M40.5,99.3L43.2,102.0L40.5,104.7L37.8,102.0Z" fill="#f2ea50" stroke="#2a2a10" stroke-width="0.8"/>
<path d="M52.0,108.9L54.7,111.6L52.0,114.3L49.3,111.6Z" fill="#f2ea50" stroke="#2a2a10" stroke-width="0.8"/>
<path d="M64.5,108.6L67.2,111.3L64.5,114.0L61.8,111.3Z" fill="#f2ea50" stroke="#2a2a10" stroke-width="0.8"/>
<path d="M78.5,100.6L81.2,103.3L78.5,106.0L75.8,103.3Z" fill="#f2ea50" stroke="#2a2a10" stroke-width="0.8"/>
<path d="M92.0,98.6L94.7,101.3L92.0,104.0L89.3,101.3Z" fill="#f2ea50" stroke="#2a2a10" stroke-width="0.8"/>
<path d="M103.2,118.6L105.9,121.3L103.2,124.0L100.5,121.3Z" fill="#f2ea50" stroke="#2a2a10" stroke-width="0.8"/>
<path d="M117.7,100.6L120.4,103.3L117.7,106.0L115.0,103.3Z" fill="#f2ea50" stroke="#2a2a10" stroke-width="0.8"/>
<path d="M127.8,98.3L130.5,101.0L127.8,103.7L125.1,101.0Z" fill="#f2ea50" stroke="#2a2a10" stroke-width="0.8"/>
<path d="M142.3,90.5L145.0,93.2L142.3,95.9L139.6,93.2Z" fill="#f2ea50" stroke="#2a2a10" stroke-width="0.8"/>
<path d="M154.7,102.0L157.4,104.7L154.7,107.4L152.0,104.7Z" fill="#f2ea50" stroke="#2a2a10" stroke-width="0.8"/>
<path d="M167.5,111.2L170.2,113.9L167.5,116.6L164.8,113.9Z" fill="#f2ea50" stroke="#2a2a10" stroke-width="0.8"/>
<path d="M181.0,93.8L183.7,96.5L181.0,99.2L178.3,96.5Z" fill="#f2ea50" stroke="#2a2a10" stroke-width="0.8"/>
<path d="M196.4,106.5L199.1,109.2L196.4,111.9L193.7,109.2Z" fill="#f2ea50" stroke="#2a2a10" stroke-width="0.8"/>
<path d="M204.5,108.1L207.2,110.8L204.5,113.5L201.8,110.8Z" fill="#f2ea50" stroke="#2a2a10" stroke-width="0.8"/>
<path d="M217.7,110.6L220.4,113.3L217.7,116.0L215.0,113.3Z" fill="#f2ea50" stroke="#2a2a10" stroke-width="0.8"/>
<path d="M230.0,105.9L232.7,108.6L230.0,111.3L227.3,108.6Z" fill="#f2ea50" stroke="#2a2a10" stroke-width="0.8"/>
<path d="M238.0,104.6L240.7,107.3L238.0,110.0L235.3,107.3Z" fill="#f2ea50" stroke="#2a2a10" stroke-width="0.8"/>
<path d="M242.9,90.9L245.6,93.6L242.9,96.3L240.2,93.6Z" fill="#f2ea50" stroke="#2a2a10" stroke-width="0.8"/>
<path d="M256.2,110.5L258.9,113.2L256.2,115.9L253.5,113.2Z" fill="#f2ea50" stroke="#2a2a10" stroke-width="0.8"/>
<path d="M268.7,104.3L271.4,107.0L268.7,109.7L266.0,107.0Z" fill="#f2ea50" stroke="#2a2a10" stroke-width="0.8"/>
<path d="M281.5,106.1L284.2,108.8L281.5,111.5L278.8,108.8Z" fill="#f2ea50" stroke="#2a2a10" stroke-width="0.8"/>
<line x1="92.3" y1="210.0" x2="92.3" y2="259.0" stroke="#d9d9d9" stroke-width="1"/>
<line x1="117.2" y1="280.0" x2="117.2" y2="300.0" stroke="#d9d9d9" stroke-width="1"/>
<line x1="128.3" y1="232.7" x2="128.3" y2="300.0" stroke="#d9d9d9" stroke-width="1"/>
<line x1="142.8" y1="208.0" x2="142.8" y2="256.0" stroke="#d9d9d9" stroke-width="1"/>
<line x1="153.5" y1="250.0" x2="153.5" y2="292.0" stroke="#d9d9d9" stroke-width="1"/>
<line x1="167.3" y1="280.0" x2="167.3" y2="310.0" stroke="#d9d9d9" stroke-width="1"/>
<line x1="178.8" y1="276.0" x2="178.8" y2="290.0" stroke="#d9d9d9" stroke-width="1"/>
<line x1="212.3" y1="295.0" x2="212.3" y2="330.0" stroke="#d9d9d9" stroke-width="1"/>
<line x1="217.3" y1="290.0" x2="217.3" y2="330.0" stroke="#d9d9d9" stroke-width="1"/>
<line x1="230.5" y1="290.0" x2="230.5" y2="340.0" stroke="#d9d9d9" stroke-width="1"/>
<line x1="237.9" y1="211.0" x2="237.9" y2="262.0" stroke="#d9d9d9" stroke-width="1"/>
<line x1="243.4" y1="228.0" x2="243.4" y2="269.0" stroke="#d9d9d9" stroke-width="1"/>
<line x1="257.0" y1="285.0" x2="257.0" y2="340.0" stroke="#d9d9d9" stroke-width="1"/>
<line x1="270.0" y1="300.0" x2="270.0" y2="345.0" stroke="#d9d9d9" stroke-width="1"/>
<line x1="287.0" y1="320.0" x2="287.0" y2="352.0" stroke="#d9d9d9" stroke-width="1"/>
<line x1="64.7" y1="284.0" x2="64.7" y2="313.0" stroke="#d9d9d9" stroke-width="1"/>
<line x1="77.3" y1="287.0" x2="77.3" y2="320.0" stroke="#d9d9d9" stroke-width="1"/>
<line x1="104.6" y1="333.0" x2="104.6" y2="352.0" stroke="#d9d9d9" stroke-width="1"/>
<line x1="115.6" y1="330.0" x2="115.6" y2="347.0" stroke="#d9d9d9" stroke-width="1"/>
<line x1="52.3" y1="311.0" x2="52.3" y2="340.0" stroke="#d9d9d9" stroke-width="1"/>
<line x1="67.0" y1="300.0" x2="67.0" y2="330.0" stroke="#d9d9d9" stroke-width="1"/>
<line x1="73.0" y1="300.0" x2="73.0" y2="330.0" stroke="#d9d9d9" stroke-width="1"/>
<line x1="82.0" y1="315.0" x2="82.0" y2="345.0" stroke="#d9d9d9" stroke-width="1"/>
<line x1="86.0" y1="310.0" x2="86.0" y2="340.0" stroke="#d9d9d9" stroke-width="1"/>
<line x1="100.0" y1="320.0" x2="100.0" y2="345.0" stroke="#d9d9d9" stroke-width="1"/>
<line x1="110.0" y1="310.0" x2="110.0" y2="340.0" stroke="#d9d9d9" stroke-width="1"/>
<line x1="125.0" y1="290.0" x2="125.0" y2="325.0" stroke="#d9d9d9" stroke-width="1"/>
<line x1="137.0" y1="310.0" x2="137.0" y2="340.0" stroke="#d9d9d9" stroke-width="1"/>
<line x1="146.0" y1="305.0" x2="146.0" y2="340.0" stroke="#d9d9d9" stroke-width="1"/>
<line x1="158.0" y1="305.0" x2="158.0" y2="345.0" stroke="#d9d9d9" stroke-width="1"/>
<line x1="162.0" y1="315.0" x2="162.0" y2="345.0" stroke="#d9d9d9" stroke-width="1"/>
<line x1="171.0" y1="295.0" x2="171.0" y2="330.0" stroke="#d9d9d9" stroke-width="1"/>
<line x1="185.0" y1="300.0" x2="185.0" y2="340.0" stroke="#d9d9d9" stroke-width="1"/>
<line x1="189.0" y1="301.0" x2="189.0" y2="345.0" stroke="#d9d9d9" stroke-width="1"/>
<line x1="199.8" y1="297.0" x2="199.8" y2="330.0" stroke="#d9d9d9" stroke-width="1"/>
<line x1="205.5" y1="290.0" x2="205.5" y2="340.0" stroke="#d9d9d9" stroke-width="1"/>
<line x1="250.0" y1="300.0" x2="250.0" y2="340.0" stroke="#d9d9d9" stroke-width="1"/>
<line x1="263.0" y1="295.0" x2="263.0" y2="335.0" stroke="#d9d9d9" stroke-width="1"/>
<line x1="275.0" y1="315.0" x2="275.0" y2="350.0" stroke="#d9d9d9" stroke-width="1"/>
<line x1="282.0" y1="320.0" x2="282.0" y2="350.0" stroke="#d9d9d9" stroke-width="1"/>
<line x1="224.4" y1="192" x2="224.4" y2="369" stroke="#c4f6f6" stroke-width="2.2"/>
<line x1="224.4" y1="192" x2="224.4" y2="369" stroke="#3cb8bc" stroke-width="1.3" stroke-dasharray="7,3" stroke-dashoffset="4"/>
<path d="M39.8,331.3L52.9,325.6L64.3,297.0L77.5,316.2L91.9,308.6L104.6,342.3L115.6,335.2L127.9,308.5L140.6,326.8L153.5,296.9L167.0,308.0L180.5,296.0L197.7,331.0L204.4,335.0L214.5,307.5L230.1,322.8L245.2,308.2L257.5,313.0L270.0,318.0L284.5,341.3" fill="none" stroke="#333" stroke-width="0.8"/>
<path d="M39.5,310.2L52.9,322.7L64.5,296.7L77.5,301.7L92.3,259.7L103.6,327.0L115.9,305.9L128.3,259.7L142.9,256.0L153.5,292.7L166.9,306.2L178.7,288.0L199.0,313.2L205.0,324.5L211.7,305.0L214.7,314.7L217.7,320.0L219.2,326.0L222.2,325.2L225.2,353.5L230.3,304.8L235.5,315.4L237.9,261.8L243.4,269.6L257.8,332.5L269.5,343.0L284.5,341.3" fill="none" stroke="#333" stroke-width="0.8"/>
<path d="M39.8,325.8L52.9,322.6L64.3,296.7L78.3,305.2L91.9,329.4L103.0,329.0L117.1,294.5L126.9,297.0L142.1,321.3L154.3,314.0L167.8,309.3L180.6,295.0L196.3,320.1L204.0,317.2L217.5,305.2L230.1,310.4L237.7,318.7L242.4,328.2L256.3,328.8L269.5,315.0L281.3,318.0" fill="none" stroke="#333" stroke-width="0.8"/>
<path d="M57.2,323.0L59.0,318.8L61.0,315.0L64.8,313.0L68.7,314.6L71.6,316.0L74.5,313.0L76.4,321.7L79.3,323.7L81.0,322.5L83.1,332.3L86.2,325.8L90.4,332.5L94.4,331.5L99.2,333.5L102.7,333.1L106.0,331.5L108.8,327.3L111.2,323.5L116.2,325.0L117.5,317.5L119.9,299.8L122.9,305.9L127.3,305.9L131.5,315.5L134.7,319.6L137.6,327.0L142.6,316.0L147.6,321.5L150.0,326.8L156.0,322.7L159.2,324.0L160.2,328.8L163.0,330.2L166.0,322.0L167.0,317.5L170.8,311.5L173.8,317.0L175.8,306.6L178.2,311.4L180.2,302.0L182.2,311.7L185.2,319.2L189.0,324.0L191.9,322.1L194.8,326.0L200.1,322.8L205.8,313.8L209.1,311.5L211.4,308.8L214.8,308.2L221.5,313.8L226.0,334.0L230.1,330.7L230.5,322.8L233.9,321.7L239.5,322.8L245.0,323.0L250.0,321.3L252.5,321.3L260.0,317.5L263.8,316.3L262.5,321.3L267.7,335.2L269.7,333.3L272.5,323.7L279.8,338.0L285.0,346.7L290.8,332.7" fill="none" stroke="#555" stroke-width="0.6"/>
<circle cx="39.8" cy="331.3" r="2.3" fill="#0a0a0a" stroke="#000" stroke-width="0.4"/>
<circle cx="52.9" cy="325.6" r="2.3" fill="#0a0a0a" stroke="#000" stroke-width="0.4"/>
<circle cx="64.3" cy="297.0" r="2.3" fill="#0a0a0a" stroke="#000" stroke-width="0.4"/>
<circle cx="77.5" cy="316.2" r="2.3" fill="#0a0a0a" stroke="#000" stroke-width="0.4"/>
<circle cx="91.9" cy="308.6" r="2.3" fill="#0a0a0a" stroke="#000" stroke-width="0.4"/>
<circle cx="104.6" cy="342.3" r="2.3" fill="#0a0a0a" stroke="#000" stroke-width="0.4"/>
<circle cx="115.6" cy="335.2" r="2.3" fill="#0a0a0a" stroke="#000" stroke-width="0.4"/>
<circle cx="127.9" cy="308.5" r="2.3" fill="#0a0a0a" stroke="#000" stroke-width="0.4"/>
<circle cx="140.6" cy="326.8" r="2.3" fill="#0a0a0a" stroke="#000" stroke-width="0.4"/>
<circle cx="153.5" cy="296.9" r="2.3" fill="#0a0a0a" stroke="#000" stroke-width="0.4"/>
<circle cx="197.7" cy="331.0" r="2.3" fill="#0a0a0a" stroke="#000" stroke-width="0.4"/>
<circle cx="204.4" cy="335.0" r="2.3" fill="#0a0a0a" stroke="#000" stroke-width="0.4"/>
<circle cx="230.1" cy="322.8" r="2.3" fill="#0a0a0a" stroke="#000" stroke-width="0.4"/>
<circle cx="245.2" cy="308.2" r="2.3" fill="#0a0a0a" stroke="#000" stroke-width="0.4"/>
<circle cx="257.5" cy="313.0" r="2.3" fill="#0a0a0a" stroke="#000" stroke-width="0.4"/>
<circle cx="284.5" cy="341.3" r="2.3" fill="#0a0a0a" stroke="#000" stroke-width="0.4"/>
<path d="M37.1,308.4L41.9,308.4L39.5,312.4Z" fill="#7c1a28" stroke="#3a0a10" stroke-width="0.5"/>
<path d="M50.5,320.9L55.3,320.9L52.9,324.9Z" fill="#7c1a28" stroke="#3a0a10" stroke-width="0.5"/>
<path d="M62.1,294.9L66.9,294.9L64.5,298.9Z" fill="#7c1a28" stroke="#3a0a10" stroke-width="0.5"/>
<path d="M75.1,299.9L79.9,299.9L77.5,303.9Z" fill="#7c1a28" stroke="#3a0a10" stroke-width="0.5"/>
<path d="M89.9,257.9L94.7,257.9L92.3,261.9Z" fill="#7c1a28" stroke="#3a0a10" stroke-width="0.5"/>
<path d="M101.2,325.2L106.0,325.2L103.6,329.2Z" fill="#7c1a28" stroke="#3a0a10" stroke-width="0.5"/>
<path d="M113.5,304.1L118.3,304.1L115.9,308.1Z" fill="#7c1a28" stroke="#3a0a10" stroke-width="0.5"/>
<path d="M125.9,257.9L130.7,257.9L128.3,261.9Z" fill="#7c1a28" stroke="#3a0a10" stroke-width="0.5"/>
<path d="M140.5,254.2L145.3,254.2L142.9,258.2Z" fill="#7c1a28" stroke="#3a0a10" stroke-width="0.5"/>
<path d="M151.1,290.9L155.9,290.9L153.5,294.9Z" fill="#7c1a28" stroke="#3a0a10" stroke-width="0.5"/>
<path d="M164.5,304.4L169.3,304.4L166.9,308.4Z" fill="#7c1a28" stroke="#3a0a10" stroke-width="0.5"/>
<path d="M176.3,286.2L181.1,286.2L178.7,290.2Z" fill="#7c1a28" stroke="#3a0a10" stroke-width="0.5"/>
<path d="M196.6,311.4L201.4,311.4L199.0,315.4Z" fill="#7c1a28" stroke="#3a0a10" stroke-width="0.5"/>
<path d="M202.6,322.7L207.4,322.7L205.0,326.7Z" fill="#7c1a28" stroke="#3a0a10" stroke-width="0.5"/>
<path d="M209.3,303.2L214.1,303.2L211.7,307.2Z" fill="#7c1a28" stroke="#3a0a10" stroke-width="0.5"/>
<path d="M212.3,312.9L217.1,312.9L214.7,316.9Z" fill="#7c1a28" stroke="#3a0a10" stroke-width="0.5"/>
<path d="M215.3,318.2L220.1,318.2L217.7,322.2Z" fill="#7c1a28" stroke="#3a0a10" stroke-width="0.5"/>
<path d="M216.8,324.2L221.6,324.2L219.2,328.2Z" fill="#7c1a28" stroke="#3a0a10" stroke-width="0.5"/>
<path d="M219.8,323.4L224.6,323.4L222.2,327.4Z" fill="#7c1a28" stroke="#3a0a10" stroke-width="0.5"/>
<path d="M222.8,351.7L227.6,351.7L225.2,355.7Z" fill="#7c1a28" stroke="#3a0a10" stroke-width="0.5"/>
<path d="M227.9,303.0L232.7,303.0L230.3,307.0Z" fill="#7c1a28" stroke="#3a0a10" stroke-width="0.5"/>
<path d="M233.1,313.6L237.9,313.6L235.5,317.6Z" fill="#7c1a28" stroke="#3a0a10" stroke-width="0.5"/>
<path d="M235.5,260.0L240.3,260.0L237.9,264.0Z" fill="#7c1a28" stroke="#3a0a10" stroke-width="0.5"/>
<path d="M241.0,267.8L245.8,267.8L243.4,271.8Z" fill="#7c1a28" stroke="#3a0a10" stroke-width="0.5"/>
<path d="M255.4,330.7L260.2,330.7L257.8,334.7Z" fill="#7c1a28" stroke="#3a0a10" stroke-width="0.5"/>
<path d="M267.1,341.2L271.9,341.2L269.5,345.2Z" fill="#7c1a28" stroke="#3a0a10" stroke-width="0.5"/>
<path d="M282.1,339.5L286.9,339.5L284.5,343.5Z" fill="#7c1a28" stroke="#3a0a10" stroke-width="0.5"/>
<rect x="55.1" y="320.9" width="4.2" height="4.2" fill="#36c836" stroke="#175317" stroke-width="0.75"/>
<rect x="56.9" y="316.7" width="4.2" height="4.2" fill="#36c836" stroke="#175317" stroke-width="0.75"/>
<rect x="58.9" y="312.9" width="4.2" height="4.2" fill="#36c836" stroke="#175317" stroke-width="0.75"/>
<rect x="62.7" y="310.9" width="4.2" height="4.2" fill="#36c836" stroke="#175317" stroke-width="0.75"/>
<rect x="66.6" y="312.5" width="4.2" height="4.2" fill="#36c836" stroke="#175317" stroke-width="0.75"/>
<rect x="69.5" y="313.9" width="4.2" height="4.2" fill="#36c836" stroke="#175317" stroke-width="0.75"/>
<rect x="72.4" y="310.9" width="4.2" height="4.2" fill="#36c836" stroke="#175317" stroke-width="0.75"/>
<rect x="74.3" y="319.6" width="4.2" height="4.2" fill="#36c836" stroke="#175317" stroke-width="0.75"/>
<rect x="77.2" y="321.6" width="4.2" height="4.2" fill="#36c836" stroke="#175317" stroke-width="0.75"/>
<rect x="78.9" y="320.4" width="4.2" height="4.2" fill="#36c836" stroke="#175317" stroke-width="0.75"/>
<rect x="81.0" y="330.2" width="4.2" height="4.2" fill="#36c836" stroke="#175317" stroke-width="0.75"/>
<rect x="84.1" y="323.7" width="4.2" height="4.2" fill="#36c836" stroke="#175317" stroke-width="0.75"/>
<rect x="88.3" y="330.4" width="4.2" height="4.2" fill="#36c836" stroke="#175317" stroke-width="0.75"/>
<rect x="92.3" y="329.4" width="4.2" height="4.2" fill="#36c836" stroke="#175317" stroke-width="0.75"/>
<rect x="97.1" y="331.4" width="4.2" height="4.2" fill="#36c836" stroke="#175317" stroke-width="0.75"/>
<rect x="100.6" y="331.0" width="4.2" height="4.2" fill="#36c836" stroke="#175317" stroke-width="0.75"/>
<rect x="103.9" y="329.4" width="4.2" height="4.2" fill="#36c836" stroke="#175317" stroke-width="0.75"/>
<rect x="106.7" y="325.2" width="4.2" height="4.2" fill="#36c836" stroke="#175317" stroke-width="0.75"/>
<rect x="109.1" y="321.4" width="4.2" height="4.2" fill="#36c836" stroke="#175317" stroke-width="0.75"/>
<rect x="114.1" y="322.9" width="4.2" height="4.2" fill="#36c836" stroke="#175317" stroke-width="0.75"/>
<rect x="115.4" y="315.4" width="4.2" height="4.2" fill="#36c836" stroke="#175317" stroke-width="0.75"/>
<rect x="117.8" y="297.7" width="4.2" height="4.2" fill="#36c836" stroke="#175317" stroke-width="0.75"/>
<rect x="120.8" y="303.8" width="4.2" height="4.2" fill="#36c836" stroke="#175317" stroke-width="0.75"/>
<rect x="125.2" y="303.8" width="4.2" height="4.2" fill="#36c836" stroke="#175317" stroke-width="0.75"/>
<rect x="129.4" y="313.4" width="4.2" height="4.2" fill="#36c836" stroke="#175317" stroke-width="0.75"/>
<rect x="132.6" y="317.5" width="4.2" height="4.2" fill="#36c836" stroke="#175317" stroke-width="0.75"/>
<rect x="135.5" y="324.9" width="4.2" height="4.2" fill="#36c836" stroke="#175317" stroke-width="0.75"/>
<rect x="140.5" y="313.9" width="4.2" height="4.2" fill="#36c836" stroke="#175317" stroke-width="0.75"/>
<rect x="145.5" y="319.4" width="4.2" height="4.2" fill="#36c836" stroke="#175317" stroke-width="0.75"/>
<rect x="147.9" y="324.7" width="4.2" height="4.2" fill="#36c836" stroke="#175317" stroke-width="0.75"/>
<rect x="153.9" y="320.6" width="4.2" height="4.2" fill="#36c836" stroke="#175317" stroke-width="0.75"/>
<rect x="157.1" y="321.9" width="4.2" height="4.2" fill="#36c836" stroke="#175317" stroke-width="0.75"/>
<rect x="158.1" y="326.7" width="4.2" height="4.2" fill="#36c836" stroke="#175317" stroke-width="0.75"/>
<rect x="160.9" y="328.1" width="4.2" height="4.2" fill="#36c836" stroke="#175317" stroke-width="0.75"/>
<rect x="163.9" y="319.9" width="4.2" height="4.2" fill="#36c836" stroke="#175317" stroke-width="0.75"/>
<rect x="164.9" y="315.4" width="4.2" height="4.2" fill="#36c836" stroke="#175317" stroke-width="0.75"/>
<rect x="168.7" y="309.4" width="4.2" height="4.2" fill="#36c836" stroke="#175317" stroke-width="0.75"/>
<rect x="171.7" y="314.9" width="4.2" height="4.2" fill="#36c836" stroke="#175317" stroke-width="0.75"/>
<rect x="173.7" y="304.5" width="4.2" height="4.2" fill="#36c836" stroke="#175317" stroke-width="0.75"/>
<rect x="176.1" y="309.3" width="4.2" height="4.2" fill="#36c836" stroke="#175317" stroke-width="0.75"/>
<rect x="178.1" y="299.9" width="4.2" height="4.2" fill="#36c836" stroke="#175317" stroke-width="0.75"/>
<rect x="180.1" y="309.6" width="4.2" height="4.2" fill="#36c836" stroke="#175317" stroke-width="0.75"/>
<rect x="183.1" y="317.1" width="4.2" height="4.2" fill="#36c836" stroke="#175317" stroke-width="0.75"/>
<rect x="186.9" y="321.9" width="4.2" height="4.2" fill="#36c836" stroke="#175317" stroke-width="0.75"/>
<rect x="189.8" y="320.0" width="4.2" height="4.2" fill="#36c836" stroke="#175317" stroke-width="0.75"/>
<rect x="192.7" y="323.9" width="4.2" height="4.2" fill="#36c836" stroke="#175317" stroke-width="0.75"/>
<rect x="198.0" y="320.7" width="4.2" height="4.2" fill="#36c836" stroke="#175317" stroke-width="0.75"/>
<rect x="203.7" y="311.7" width="4.2" height="4.2" fill="#36c836" stroke="#175317" stroke-width="0.75"/>
<rect x="207.0" y="309.4" width="4.2" height="4.2" fill="#36c836" stroke="#175317" stroke-width="0.75"/>
<rect x="209.3" y="306.7" width="4.2" height="4.2" fill="#36c836" stroke="#175317" stroke-width="0.75"/>
<rect x="212.7" y="306.1" width="4.2" height="4.2" fill="#36c836" stroke="#175317" stroke-width="0.75"/>
<rect x="219.4" y="311.7" width="4.2" height="4.2" fill="#36c836" stroke="#175317" stroke-width="0.75"/>
<rect x="223.9" y="331.9" width="4.2" height="4.2" fill="#36c836" stroke="#175317" stroke-width="0.75"/>
<rect x="228.0" y="328.6" width="4.2" height="4.2" fill="#36c836" stroke="#175317" stroke-width="0.75"/>
<rect x="228.4" y="320.7" width="4.2" height="4.2" fill="#36c836" stroke="#175317" stroke-width="0.75"/>
<rect x="231.8" y="319.6" width="4.2" height="4.2" fill="#36c836" stroke="#175317" stroke-width="0.75"/>
<rect x="237.4" y="320.7" width="4.2" height="4.2" fill="#36c836" stroke="#175317" stroke-width="0.75"/>
<rect x="242.9" y="320.9" width="4.2" height="4.2" fill="#36c836" stroke="#175317" stroke-width="0.75"/>
<rect x="247.9" y="319.2" width="4.2" height="4.2" fill="#36c836" stroke="#175317" stroke-width="0.75"/>
<rect x="250.4" y="319.2" width="4.2" height="4.2" fill="#36c836" stroke="#175317" stroke-width="0.75"/>
<rect x="257.9" y="315.4" width="4.2" height="4.2" fill="#36c836" stroke="#175317" stroke-width="0.75"/>
<rect x="261.7" y="314.2" width="4.2" height="4.2" fill="#36c836" stroke="#175317" stroke-width="0.75"/>
<rect x="260.4" y="319.2" width="4.2" height="4.2" fill="#36c836" stroke="#175317" stroke-width="0.75"/>
<rect x="265.6" y="333.1" width="4.2" height="4.2" fill="#36c836" stroke="#175317" stroke-width="0.75"/>
<rect x="267.6" y="331.2" width="4.2" height="4.2" fill="#36c836" stroke="#175317" stroke-width="0.75"/>
<rect x="270.4" y="321.6" width="4.2" height="4.2" fill="#36c836" stroke="#175317" stroke-width="0.75"/>
<rect x="277.7" y="335.9" width="4.2" height="4.2" fill="#36c836" stroke="#175317" stroke-width="0.75"/>
<rect x="282.9" y="344.6" width="4.2" height="4.2" fill="#36c836" stroke="#175317" stroke-width="0.75"/>
<rect x="288.7" y="330.6" width="4.2" height="4.2" fill="#36c836" stroke="#175317" stroke-width="0.75"/>
<path d="M39.8,323.1L42.5,325.8L39.8,328.5L37.1,325.8Z" fill="#f2ea50" stroke="#2a2a10" stroke-width="0.8"/>
<path d="M52.9,319.9L55.6,322.6L52.9,325.3L50.2,322.6Z" fill="#f2ea50" stroke="#2a2a10" stroke-width="0.8"/>
<path d="M64.3,294.0L67.0,296.7L64.3,299.4L61.6,296.7Z" fill="#f2ea50" stroke="#2a2a10" stroke-width="0.8"/>
<path d="M78.3,302.5L81.0,305.2L78.3,307.9L75.6,305.2Z" fill="#f2ea50" stroke="#2a2a10" stroke-width="0.8"/>
<path d="M91.9,326.7L94.6,329.4L91.9,332.1L89.2,329.4Z" fill="#f2ea50" stroke="#2a2a10" stroke-width="0.8"/>
<path d="M103.0,326.3L105.7,329.0L103.0,331.7L100.3,329.0Z" fill="#f2ea50" stroke="#2a2a10" stroke-width="0.8"/>
<path d="M117.1,291.8L119.8,294.5L117.1,297.2L114.4,294.5Z" fill="#f2ea50" stroke="#2a2a10" stroke-width="0.8"/>
<path d="M126.9,294.3L129.6,297.0L126.9,299.7L124.2,297.0Z" fill="#f2ea50" stroke="#2a2a10" stroke-width="0.8"/>
<path d="M142.1,318.6L144.8,321.3L142.1,324.0L139.4,321.3Z" fill="#f2ea50" stroke="#2a2a10" stroke-width="0.8"/>
<path d="M154.3,311.3L157.0,314.0L154.3,316.7L151.6,314.0Z" fill="#f2ea50" stroke="#2a2a10" stroke-width="0.8"/>
<path d="M167.8,306.6L170.5,309.3L167.8,312.0L165.1,309.3Z" fill="#f2ea50" stroke="#2a2a10" stroke-width="0.8"/>
<path d="M180.6,292.3L183.3,295.0L180.6,297.7L177.9,295.0Z" fill="#f2ea50" stroke="#2a2a10" stroke-width="0.8"/>
<path d="M196.3,317.4L199.0,320.1L196.3,322.8L193.6,320.1Z" fill="#f2ea50" stroke="#2a2a10" stroke-width="0.8"/>
<path d="M204.0,314.5L206.7,317.2L204.0,319.9L201.3,317.2Z" fill="#f2ea50" stroke="#2a2a10" stroke-width="0.8"/>
<path d="M217.5,302.5L220.2,305.2L217.5,307.9L214.8,305.2Z" fill="#f2ea50" stroke="#2a2a10" stroke-width="0.8"/>
<path d="M230.1,307.7L232.8,310.4L230.1,313.1L227.4,310.4Z" fill="#f2ea50" stroke="#2a2a10" stroke-width="0.8"/>
<path d="M237.7,316.0L240.4,318.7L237.7,321.4L235.0,318.7Z" fill="#f2ea50" stroke="#2a2a10" stroke-width="0.8"/>
<path d="M242.4,325.5L245.1,328.2L242.4,330.9L239.7,328.2Z" fill="#f2ea50" stroke="#2a2a10" stroke-width="0.8"/>
<path d="M256.3,326.1L259.0,328.8L256.3,331.5L253.6,328.8Z" fill="#f2ea50" stroke="#2a2a10" stroke-width="0.8"/>
<path d="M269.5,312.3L272.2,315.0L269.5,317.7L266.8,315.0Z" fill="#f2ea50" stroke="#2a2a10" stroke-width="0.8"/>
<path d="M281.3,315.3L284.0,318.0L281.3,320.7L278.6,318.0Z" fill="#f2ea50" stroke="#2a2a10" stroke-width="0.8"/>
<line x1="39" y1="354.6" x2="292" y2="354.6" stroke="#d8f4f0" stroke-width="2.2"/>
<line x1="38" y1="354.6" x2="292" y2="354.6" stroke="#2a9690" stroke-width="1.9" stroke-dasharray="9.6,3.65"/>
</g>
</svg>
</body></html>
